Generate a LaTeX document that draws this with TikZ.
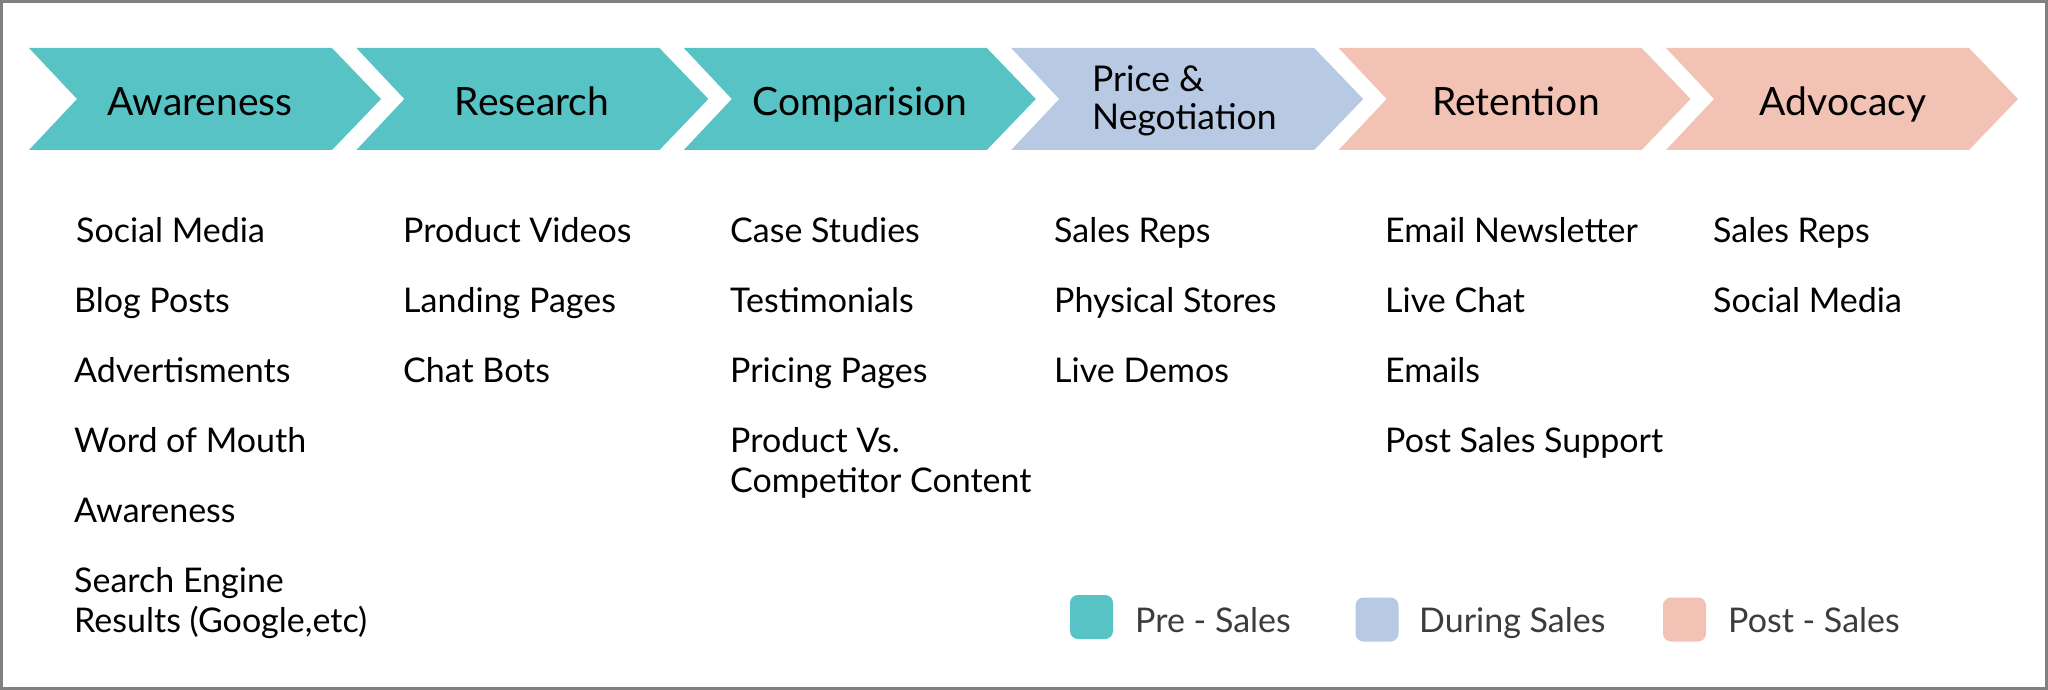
\documentclass[tikz,border=0pt]{standalone}
\usepackage{fontspec}
\setmainfont{Lato}
\definecolor{tealc}{HTML}{58C3C4}
\definecolor{bluec}{HTML}{B8C9E4}
\definecolor{salmonc}{HTML}{F2C3B4}
\definecolor{framec}{HTML}{808080}
\definecolor{legtextc}{HTML}{3C3C3C}
\newcommand\chevshape[2]{\fill[#2] (#1,48) -- ++(303,0) -- ++(49,51) -- ++(-49,51) -- ++(-303,0) -- ++(48,-51) -- cycle;}
\tikzset{
  head/.style={font=\fontsize{39}{38}\selectfont, inner sep=0pt, anchor=base},
  item/.style={font=\fontsize{34}{40}\selectfont, inner sep=0pt, anchor=base west, align=left},
  legbox/.style={rounded corners=8pt, minimum width=43pt, minimum height=44pt, inner sep=0pt},
  legtext/.style={font=\fontsize{34}{40}\selectfont, text=legtextc, inner sep=0pt, anchor=base west}
}
\begin{document}
\begin{tikzpicture}[x=1pt,y=-1pt]
\useasboundingbox (0,0) rectangle (2048,690);
\fill[white] (0,0) rectangle (2048,690);
\draw[framec, line width=3pt] (1.5,1.5) rectangle (2046.5,688.5);
% chevrons
\chevshape{29}{tealc}
\chevshape{356.4}{tealc}
\chevshape{683.8}{tealc}
\chevshape{1011.2}{bluec}
\chevshape{1338.6}{salmonc}
\chevshape{1666}{salmonc}
% headers
\node[head] (h1) at (200,116) {Awareness};
\node[head] (h2) at (532,116) {Research};
\node[head] (h3) at (860,116) {Comparision};
\node[head, anchor=base west, align=left, font=\fontsize{35.5}{38}\selectfont] (h4) at (1092,130) {Price \&\\Negotiation};
\node[head] (h5) at (1516,116) {Retention};
\node[head] (h6) at (1843,116) {Advocacy};
% column 1
\node[item] (a1) at (76,242) {Social Media};
\node[item] (a2) at (74,312) {Blog Posts};
\node[item] (a3) at (74,382) {Advertisments};
\node[item] (a4) at (74,452) {Word of Mouth};
\node[item] (a5) at (74,522) {Awareness};
\node[item] (a6) at (74,632) {Search Engine\\Results (Google,etc)};
% column 2
\node[item] (b1) at (403,242) {Product Videos};
\node[item] (b2) at (403,312) {Landing Pages};
\node[item] (b3) at (403,382) {Chat Bots};
% column 3
\node[item] (c1) at (730,242) {Case Studies};
\node[item] (c2) at (730,312) {Testimonials};
\node[item] (c3) at (730,382) {Pricing Pages};
\node[item] (c4) at (730,492) {Product Vs.\\Competitor Content};
% column 4
\node[item] (d1) at (1054,242) {Sales Reps};
\node[item] (d2) at (1054,312) {Physical Stores};
\node[item] (d3) at (1054,382) {Live Demos};
% column 5
\node[item] (e1) at (1385,242) {Email Newsletter};
\node[item] (e2) at (1385,312) {Live Chat};
\node[item] (e3) at (1385,382) {Emails};
\node[item] (e4) at (1385,452) {Post Sales Support};
% column 6
\node[item] (f1) at (1713,242) {Sales Reps};
\node[item] (f2) at (1713,312) {Social Media};
% legend
\node[legbox, fill=tealc] (l1) at (1091.5,617) {};
\node[legtext] (t1) at (1135,632) {Pre - Sales};
\node[legbox, fill=bluec] (l2) at (1377,619.5) {};
\node[legtext] (t2) at (1419,632) {During Sales};
\node[legbox, fill=salmonc] (l3) at (1684.5,619.5) {};
\node[legtext] (t3) at (1728,632) {Post - Sales};
\end{tikzpicture}
\end{document}
